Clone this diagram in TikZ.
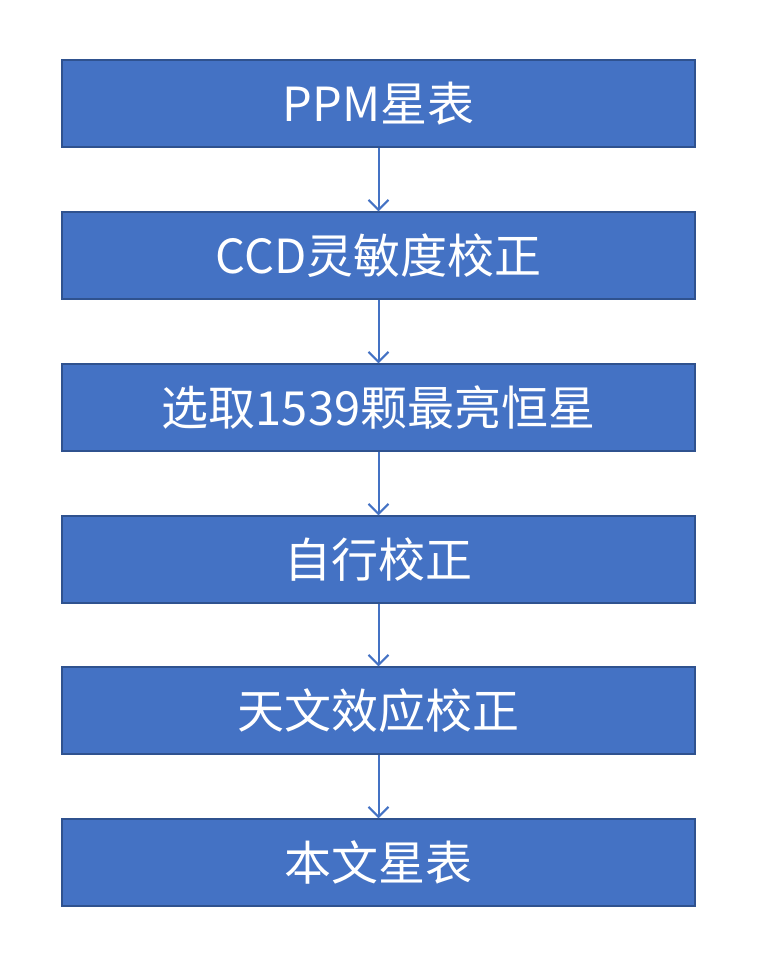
\documentclass[tikz,border=0pt]{standalone}
\usepackage{fontspec}
\setmainfont{Noto Sans CJK SC}
\usetikzlibrary{arrows.meta}
\definecolor{boxfill}{HTML}{4472C4}
\definecolor{boxline}{HTML}{2F528F}
\tikzset{
  stepbox/.style={draw=boxline, line width=1.5pt, fill=boxfill, minimum width=633pt, minimum height=87pt, inner sep=0pt, text=white, font=\fontsize{47}{52}\selectfont},
  flow/.style={draw=boxfill, line width=2pt, -{Straight Barb[length=10pt,width=20pt,line width=2pt]}}
}
\begin{document}
\begin{tikzpicture}[x=1pt,y=-1pt]
\useasboundingbox (0,0) rectangle (762,962);
\node[stepbox] (a) at (378.5,103.5) {PPM星表};
\node[stepbox] (b) at (378.5,255.5) {CCD灵敏度校正};
\node[stepbox] (c) at (378.5,407.5) {选取1539颗最亮恒星};
\node[stepbox] (d) at (378.5,559.5) {自行校正};
\node[stepbox] (e) at (378.5,710.5) {天文效应校正};
\node[stepbox] (f) at (378.5,862.5) {本文星表};
\draw[flow] (a) -- (b);
\draw[flow] (b) -- (c);
\draw[flow] (c) -- (d);
\draw[flow] (d) -- (e);
\draw[flow] (e) -- (f);
\end{tikzpicture}
\end{document}
